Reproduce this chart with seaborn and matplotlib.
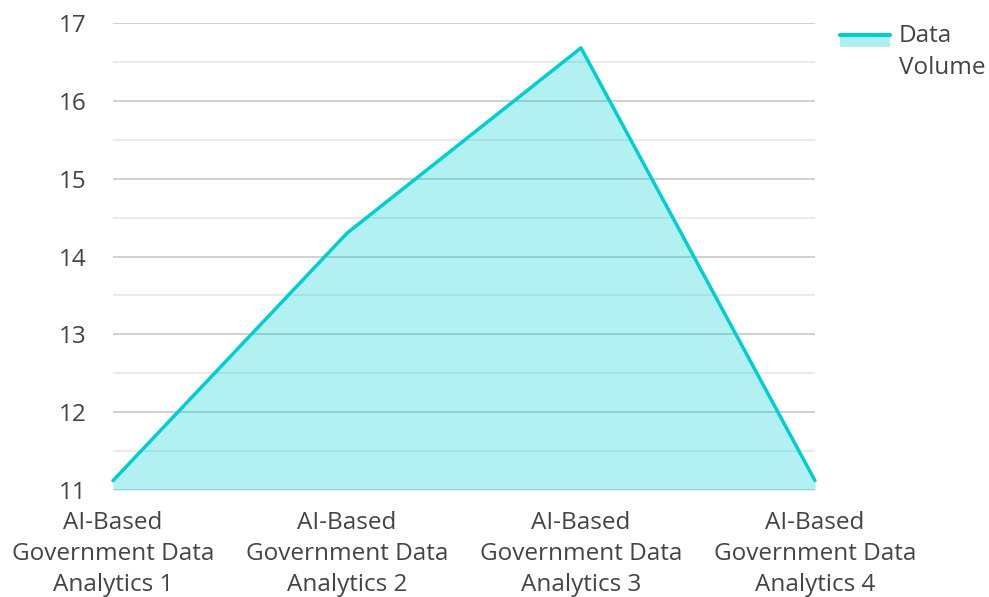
import matplotlib
matplotlib.use("Agg")
import matplotlib.pyplot as plt
from matplotlib.lines import Line2D
from matplotlib.patches import Rectangle
from matplotlib.ticker import MultipleLocator
import seaborn as sns
import pandas as pd

categories = [
    "AI-Based\nGovernment Data\nAnalytics 1",
    "AI-Based\nGovernment Data\nAnalytics 2",
    "AI-Based\nGovernment Data\nAnalytics 3",
    "AI-Based\nGovernment Data\nAnalytics 4",
]
data_volume = [11.12, 14.3, 16.68, 11.12]
series_name = "Data\nVolume"

line_color = "#00CED1"
fill_color = "#B0EEEE"
text_color = "#444444"
font_size = 17.5

sns.set_theme(style="white")
plt.rcParams["font.family"] = ["Open Sans", "DejaVu Sans"]

df = pd.DataFrame({"pos": range(len(categories)), "value": data_volume})

W, H = 989, 597
fig = plt.figure(figsize=(W / 100, H / 100), dpi=100)
ax = fig.add_axes([113 / W, 1 - 490 / H, (815 - 113) / W, (490 - 23) / H])

ax.fill_between(df["pos"], 11, df["value"], color=line_color, alpha=0.3,
                linewidth=0, zorder=2)
sns.lineplot(data=df, x="pos", y="value", ax=ax, color=line_color,
             linewidth=2.5, zorder=3, legend=False, clip_on=False)

ax.set_xlim(0, len(categories) - 1)
ax.set_ylim(11, 17)
ax.yaxis.set_major_locator(MultipleLocator(1))
ax.yaxis.set_minor_locator(MultipleLocator(0.5))
ax.grid(which="major", axis="y", color="#c8c8c8", linewidth=1.2, zorder=0)
ax.grid(which="minor", axis="y", color="#e6e6e6", linewidth=1.2, zorder=0)
ax.grid(axis="x", visible=False)
ax.set_axisbelow(True)
for s in ax.spines.values():
    s.set_visible(False)

ax.set_xticks(range(len(categories)))
ax.set_xticklabels(categories, fontsize=font_size, color=text_color,
                   linespacing=1.4)
ax.tick_params(axis="x", length=0, pad=15)
ax.tick_params(axis="y", which="both", length=0, pad=19, labelsize=font_size,
               labelcolor=text_color)
ax.set_xlabel("")
ax.set_ylabel("")

# legend: filled swatch with the line on its upper edge, label beside it
fig.add_artist(Rectangle((840 / W, 1 - 47 / H), 50 / W, 12 / H,
                         transform=fig.transFigure, facecolor=fill_color,
                         edgecolor="none"))
fig.add_artist(Line2D([840 / W, 890 / W], [1 - 35 / H, 1 - 35 / H],
                      transform=fig.transFigure, color=line_color,
                      linewidth=3))
fig.text(899 / W, 1 - 24 / H, series_name, fontsize=font_size,
         color=text_color, ha="left", va="top", linespacing=1.45)

fig.savefig("out.png", dpi=100)
